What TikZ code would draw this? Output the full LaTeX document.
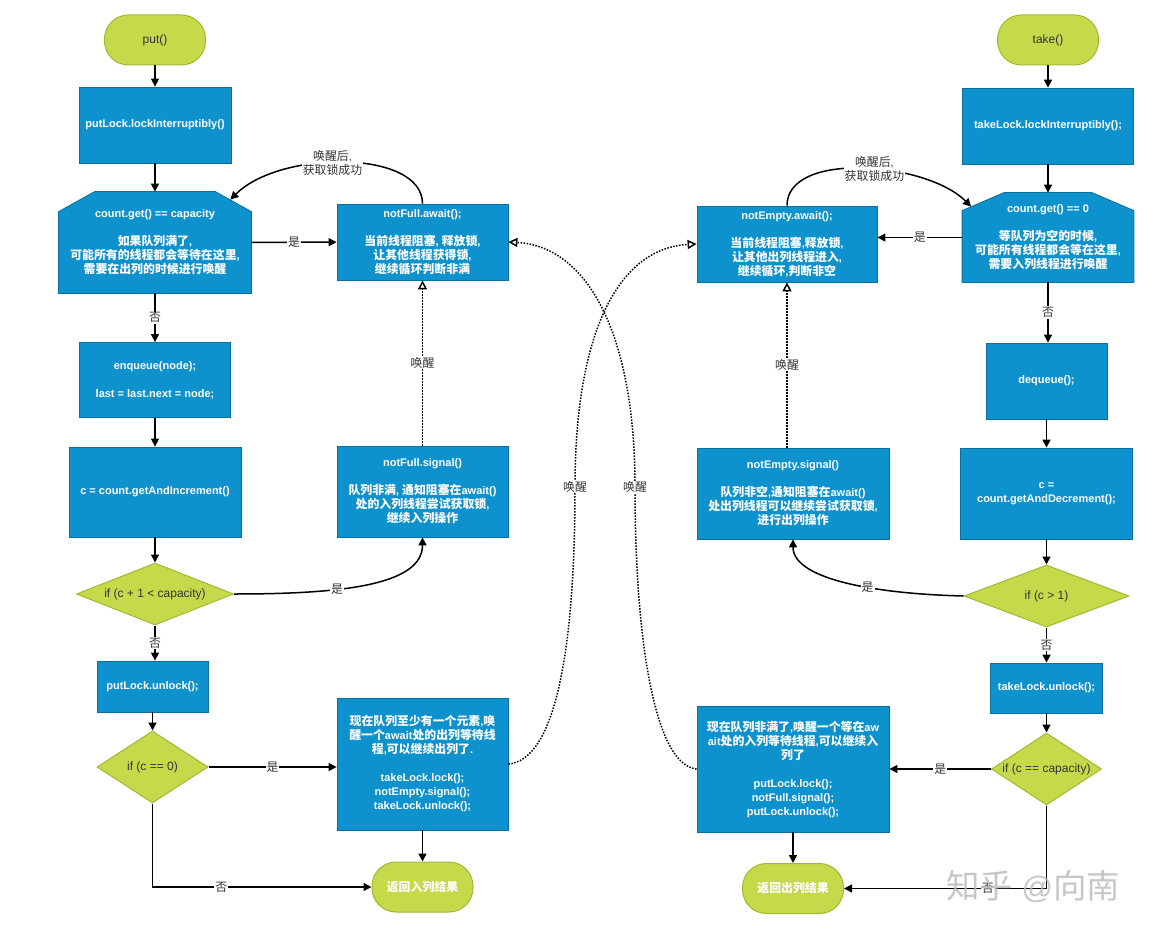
\documentclass[tikz,border=0pt]{standalone}
\usepackage{fontspec}
\setmainfont{Liberation Sans}
\newfontfamily\latinfont{Liberation Sans}
\newfontfamily\cjkfont[Scale=1.08]{Noto Sans CJK SC}
\usetikzlibrary{arrows.meta,shapes.geometric,backgrounds}

% Chinese characters switch to the CJK font
\XeTeXinterchartokenstate=1
\newXeTeXintercharclass\cjkclass
\newcount\cjkcode
\cjkcode="3000
\loop
  \XeTeXcharclass\cjkcode=\cjkclass
  \advance\cjkcode by 1
\ifnum\cjkcode<"A000 \repeat
\cjkcode="FF00
\loop
  \XeTeXcharclass\cjkcode=\cjkclass
  \advance\cjkcode by 1
\ifnum\cjkcode<"FFF0 \repeat
\XeTeXinterchartoks 0 \cjkclass={\cjkfont}
\XeTeXinterchartoks 4095 \cjkclass={\cjkfont}
\XeTeXinterchartoks \cjkclass 0={\latinfont}
\XeTeXinterchartoks \cjkclass 4095={\latinfont}

\definecolor{boxfill}{HTML}{0E92CE}
\definecolor{boxline}{HTML}{0A6E9F}
\definecolor{ovalfill}{HTML}{C6D94B}
\definecolor{ovalline}{HTML}{A3B833}
\definecolor{txt}{HTML}{333333}

\tikzset{
  startstop/.style={rectangle, rounded corners=24pt, draw=ovalline, fill=ovalfill,
    line width=1pt, minimum width=101pt, minimum height=50pt, inner sep=0pt,
    text=txt, font=\fontsize{12}{14}\selectfont},
  result/.style={startstop, text=white, font=\fontsize{11}{14}\selectfont\bfseries},
  block/.style={rectangle, draw=boxline, fill=boxfill, line width=0.8pt, inner sep=0pt,
    text=white, align=center, font=\fontsize{11}{14}\selectfont\bfseries},
  hexbox/.style={block, draw=none, fill=none},
  hexpaint/.style={draw=boxline, fill=boxfill, line width=0.8pt},
  choice/.style={diamond, aspect=1.5, draw=ovalline, fill=ovalfill, line width=1pt,
    inner sep=0pt, text=txt, font=\fontsize{12}{14}\selectfont},
  flow/.style={-{Triangle[length=8pt,width=8pt]}, line width=1.5pt},
  wake/.style={-{Triangle[open,length=9pt,width=9pt]}, line width=1.5pt,
    dash pattern=on 1.5pt off 1.5pt},
  lbl/.style={fill=white, inner sep=1pt, text=txt, font=\fontsize{11}{14}\selectfont},
  watermark/.style={text=gray!55, opacity=0.8, font=\cjkfont\fontsize{31}{31}\selectfont}
}

\begin{document}
\begin{tikzpicture}[x=1pt, y=-1pt]
  \useasboundingbox (0,0) rectangle (1153,933);

  % put()
  \node[startstop] (put) at (155,40) {put()};
  \node[block, minimum width=152pt, minimum height=76pt] (putLock) at (155,125) {putLock.lockInterruptibly()};
  \node[hexbox, minimum width=192pt, minimum height=101pt] (capCheck) at (155,242.5)
    {count.get() == capacity\\[14pt]如果队列满了,\\可能所有的线程都会等待在这里,\\需要在出列的时候进行唤醒};
  \node[block, minimum width=171pt, minimum height=76pt] (fullWait) at (422.5,242)
    {notFull.await();\\[14pt]当前线程阻塞, 释放锁,\\让其他线程获得锁,\\继续循环判断非满};
  \node[block, minimum width=151pt, minimum height=75pt] (enq) at (155,380) {enqueue(node);\\[14pt]last = last.next = node;};
  \node[block, minimum width=172pt, minimum height=90pt] (incr) at (155,492) {c = count.getAndIncrement()};
  \node[choice, aspect=2.5, minimum width=157pt, minimum height=62pt] (roomLeft) at (155,594) {if (c + 1 < capacity)};
  \node[block, minimum width=171pt, minimum height=91pt] (fullSignal) at (422.5,491.5)
    {notFull.signal()\\[14pt]队列非满, 通知阻塞在await()\\处的入列线程尝试获取锁,\\继续入列操作};
  \node[block, minimum width=111pt, minimum height=51pt] (putUnlock) at (152.5,686.5) {putLock.unlock();};
  \node[choice, minimum width=111pt, minimum height=72pt] (wasEmpty) at (152.5,767) {if (c == 0)};
  \node[block, minimum width=171pt, minimum height=132pt] (emptyNote) at (422.5,764)
    {现在队列至少有一个元素,唤\\醒一个await处的出列等待线\\程,可以继续出列了.\\[14pt]takeLock.lock();\\notEmpty.signal();\\takeLock.unlock();};
  \node[result] (putDone) at (422.5,887) {返回入列结果};

  % take()
  \node[startstop] (take) at (1048,40) {take()};
  \node[block, minimum width=171pt, minimum height=76pt] (takeLock) at (1048,126) {takeLock.lockInterruptibly();};
  \node[hexbox, minimum width=171pt, minimum height=89pt] (zeroCheck) at (1048,237.5)
    {count.get() == 0\\[14pt]等队列为空的时候,\\可能所有线程都会等在这里,\\需要入列线程进行唤醒};
  \node[block, minimum width=180pt, minimum height=76pt] (emptyWait) at (787,244)
    {notEmpty.await();\\[14pt]当前线程阻塞,释放锁,\\让其他出列线程进入,\\继续循环,判断非空};
  \node[block, minimum width=121pt, minimum height=76pt] (deq) at (1046.5,381) {dequeue();};
  \node[block, minimum width=172pt, minimum height=91pt] (decr) at (1046.5,493.5) {c =\\count.getAndDecrement();};
  \node[choice, aspect=2.5, minimum width=165pt, minimum height=62pt] (moreLeft) at (1046.5,596) {if (c > 1)};
  \node[block, minimum width=192pt, minimum height=91pt] (emptySignal) at (793,493.5)
    {notEmpty.signal()\\[14pt]队列非空,通知阻塞在await()\\处出列线程可以继续尝试获取锁,\\进行出列操作};
  \node[block, minimum width=112pt, minimum height=50pt] (takeUnlock) at (1046.5,688) {takeLock.unlock();};
  \node[choice, minimum width=110pt, minimum height=72pt] (wasFull) at (1046.5,769) {if (c == capacity)};
  \node[block, minimum width=192pt, minimum height=126pt] (fullNote) at (793,769)
    {现在队列非满了,唤醒一个等在aw\\ait处的入列等待线程,可以继续入\\列了\\[14pt]putLock.lock();\\notFull.signal();\\putLock.unlock();};
  \node[result] (takeDone) at (793,888.5) {返回出列结果};

  % chamfered boxes
  \begin{scope}[on background layer]
    \filldraw[hexpaint] ([yshift=-20pt]capCheck.north west) -- ([xshift=36pt]capCheck.north west)
      -- ([xshift=-36pt]capCheck.north east) -- ([yshift=-20pt]capCheck.north east)
      -- (capCheck.south east) -- (capCheck.south west) -- cycle;
    \filldraw[hexpaint] ([yshift=-18pt]zeroCheck.north west) -- ([xshift=42pt]zeroCheck.north west)
      -- ([xshift=-42pt]zeroCheck.north east) -- ([yshift=-18pt]zeroCheck.north east)
      -- (zeroCheck.south east) -- (zeroCheck.south west) -- cycle;
  \end{scope}
  \coordinate (capCut) at ([xshift=-21pt,yshift=-8pt]capCheck.north east);
  \coordinate (zeroCut) at ([xshift=9pt,yshift=-14pt]zeroCheck.north west);
  \coordinate (wakeA) at (575,487);
  \coordinate (wakeB) at (635,487);

  % put() arrows
  \draw[flow] (put) -- (putLock);
  \draw[flow] (putLock) -- (capCheck);
  \draw[flow] (capCheck) -- node[lbl]{否} (enq);
  \draw[flow] (capCheck) -- node[lbl]{是} (fullWait);
  \draw[flow] (fullWait.north) .. controls +(0,-54) and +(50,-50) .. node[lbl,pos=.55,align=center]{唤醒后,\\获取锁成功} (capCut);
  \draw[flow] (enq) -- (incr);
  \draw[flow] (incr) -- (roomLeft);
  \draw[flow] (roomLeft.east) .. controls +(107,0) and +(0,48) .. node[lbl,pos=.36]{是} (fullSignal.south);
  \draw[flow] (roomLeft.south) -- node[lbl]{否} (roomLeft.south |- putUnlock.north);
  \draw[flow] (putUnlock) -- (wasEmpty);
  \draw[flow] (wasEmpty.east) -- node[lbl]{是} (wasEmpty.east -| emptyNote.west);
  \draw[flow] (emptyNote) -- (putDone);
  \draw[flow] (wasEmpty.south) |- node[lbl,pos=.657]{否} (putDone.west);
  \draw[wake] (fullSignal) -- node[lbl]{唤醒} (fullWait);

  % take() arrows
  \draw[flow] (take) -- (takeLock);
  \draw[flow] (takeLock) -- (zeroCheck);
  \draw[flow] (zeroCheck.west) -- node[lbl]{是} (zeroCheck.west -| emptyWait.east);
  \draw[flow] (emptyWait.north) .. controls +(0,-55) and +(-45,-45) .. node[lbl,pos=.55,align=center]{唤醒后,\\获取锁成功} (zeroCut);
  \draw[flow] (zeroCheck.south) -- node[lbl]{否} (zeroCheck.south |- deq.north);
  \draw[flow] (deq) -- (decr);
  \draw[flow] (decr) -- (moreLeft);
  \draw[flow] (moreLeft.west) .. controls +(-83,-2) and +(0,41) .. node[lbl,pos=.4]{是} (emptySignal.south);
  \draw[flow] (moreLeft) -- node[lbl]{否} (takeUnlock);
  \draw[flow] (takeUnlock) -- (wasFull);
  \draw[flow] (wasFull.west) -- node[lbl]{是} (wasFull.west -| fullNote.east);
  \draw[flow] (fullNote) -- (takeDone);
  \draw[flow] (wasFull.south) |- node[lbl,pos=.645]{否} (takeDone.east);
  \draw[wake] (emptySignal.north -| emptyWait.south) -- node[lbl]{唤醒} (emptyWait.south);

  % wake-ups across the two sides
  \draw[wake] (emptyNote.east) .. controls +(47,-4) and +(0,163) .. (wakeA) node[lbl]{唤醒}
    .. controls +(0,-157) and +(-77,4) .. (emptyWait.west);
  \draw[wake] (fullNote.west) .. controls +(-42,-4) and +(0,153) .. (wakeB) node[lbl]{唤醒}
    .. controls +(0,-157) and +(77,4) .. (fullWait.east);

  \node[watermark] (zhihu) at (1033,887) {知乎 @向南};
\end{tikzpicture}
\end{document}
